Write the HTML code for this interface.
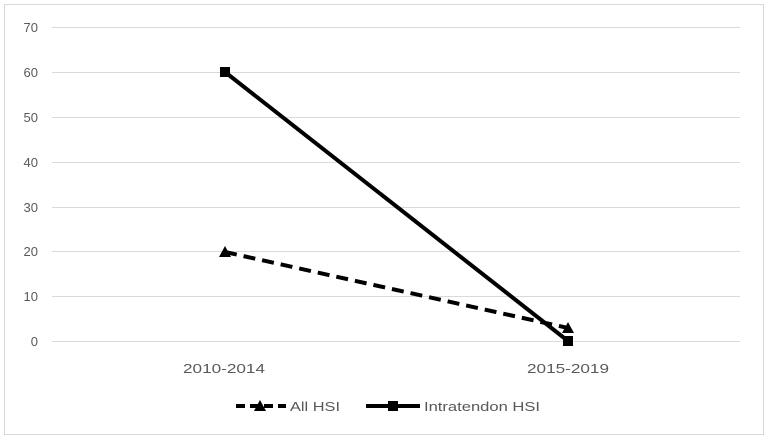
<!DOCTYPE html>
<html><head><style>body{margin:0;background:#fff}</style></head><body>
<svg width="768" height="439" xmlns="http://www.w3.org/2000/svg" font-family="Liberation Sans, sans-serif" font-size="13" fill="#595959">
<rect x="4.5" y="4.5" width="759" height="430" fill="#fff" stroke="#d9d9d9"/>
<g stroke="#d9d9d9" stroke-width="1">
<line x1="52" x2="740" y1="27.5" y2="27.5"/>
<line x1="52" x2="740" y1="72.5" y2="72.5"/>
<line x1="52" x2="740" y1="117.5" y2="117.5"/>
<line x1="52" x2="740" y1="162.5" y2="162.5"/>
<line x1="52" x2="740" y1="207.5" y2="207.5"/>
<line x1="52" x2="740" y1="251.5" y2="251.5"/>
<line x1="52" x2="740" y1="296.5" y2="296.5"/>
<line x1="52" x2="740" y1="341.5" y2="341.5"/>
</g>
<g text-anchor="end">
<text x="38" y="32">70</text><text x="38" y="77">60</text><text x="38" y="122">50</text>
<text x="38" y="167">40</text><text x="38" y="212">30</text><text x="38" y="256">20</text>
<text x="38" y="301">10</text><text x="38" y="346">0</text>
</g>
<g text-anchor="middle">
<text x="224" y="373" textLength="82" lengthAdjust="spacingAndGlyphs">2010-2014</text>
<text x="568" y="373" textLength="82" lengthAdjust="spacingAndGlyphs">2015-2019</text>
</g>
<line x1="225" y1="252" x2="568" y2="328" stroke="#000" stroke-width="4" stroke-dasharray="12,7"/>
<line x1="225" y1="72" x2="568" y2="341" stroke="#000" stroke-width="4"/>
<polygon points="225,246 231,257 219,257" fill="#000"/>
<polygon points="568,322 574,333 562,333" fill="#000"/>
<rect x="220" y="67" width="10" height="10" fill="#000"/>
<rect x="563" y="336" width="10" height="10" fill="#000"/>
<line x1="236" y1="406" x2="286" y2="406" stroke="#000" stroke-width="4" stroke-dasharray="9,5"/>
<polygon points="260,400 266,411 254,411" fill="#000"/>
<text x="290" y="411" textLength="50" lengthAdjust="spacingAndGlyphs">All HSI</text>
<line x1="366" y1="406" x2="420" y2="406" stroke="#000" stroke-width="4"/>
<rect x="388" y="401" width="10" height="10" fill="#000"/>
<text x="424" y="411" textLength="116" lengthAdjust="spacingAndGlyphs">Intratendon HSI</text>
</svg>
</body></html>
